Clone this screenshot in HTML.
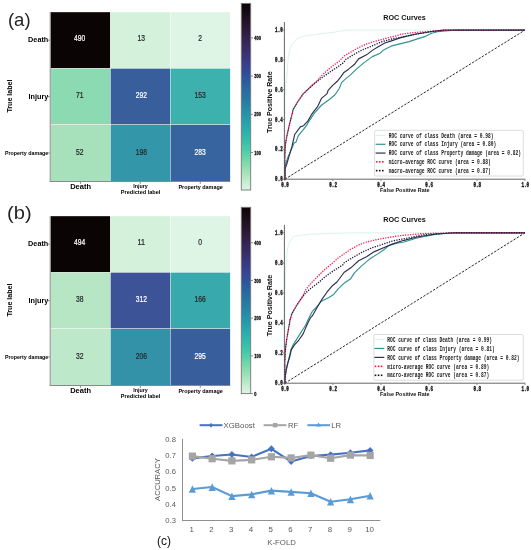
<!DOCTYPE html>
<html><head><meta charset="utf-8"><style>
html,body{margin:0;padding:0;background:#fff;width:531px;height:550px;overflow:hidden}
svg{display:block}
</style></head><body>
<svg width="531" height="550" viewBox="0 0 531 550" font-family="Liberation Sans, sans-serif">
<rect width="531" height="550" fill="#fff"/>
<rect x="50.50" y="12.00" width="59.90" height="56.40" fill="#0b0405" stroke="#fff" stroke-width="0.35"/>
<rect x="110.40" y="12.00" width="59.90" height="56.40" fill="#d4f1dc" stroke="#fff" stroke-width="0.35"/>
<rect x="170.30" y="12.00" width="59.90" height="56.40" fill="#def5e5" stroke="#fff" stroke-width="0.35"/>
<rect x="50.50" y="68.40" width="59.90" height="56.40" fill="#8bdab2" stroke="#fff" stroke-width="0.35"/>
<rect x="110.40" y="68.40" width="59.90" height="56.40" fill="#395e9c" stroke="#fff" stroke-width="0.35"/>
<rect x="170.30" y="68.40" width="59.90" height="56.40" fill="#3cb1ad" stroke="#fff" stroke-width="0.35"/>
<rect x="50.50" y="124.80" width="59.90" height="56.40" fill="#a6e1bc" stroke="#fff" stroke-width="0.35"/>
<rect x="110.40" y="124.80" width="59.90" height="56.40" fill="#3497a9" stroke="#fff" stroke-width="0.35"/>
<rect x="170.30" y="124.80" width="59.90" height="56.40" fill="#37649e" stroke="#fff" stroke-width="0.35"/>
<line x1="50.20" y1="12.00" x2="50.20" y2="181.80" stroke="#8a8a8a" stroke-width="1.0" />
<line x1="49.70" y1="181.50" x2="230.20" y2="181.50" stroke="#8a8a8a" stroke-width="1.0" />
<line x1="47.90" y1="40.20" x2="49.70" y2="40.20" stroke="#555" stroke-width="0.7" />
<line x1="80.45" y1="182.00" x2="80.45" y2="183.80" stroke="#555" stroke-width="0.7" />
<line x1="47.90" y1="96.60" x2="49.70" y2="96.60" stroke="#555" stroke-width="0.7" />
<line x1="140.35" y1="182.00" x2="140.35" y2="183.80" stroke="#555" stroke-width="0.7" />
<line x1="47.90" y1="153.00" x2="49.70" y2="153.00" stroke="#555" stroke-width="0.7" />
<line x1="200.25" y1="182.00" x2="200.25" y2="183.80" stroke="#555" stroke-width="0.7" />
<defs><linearGradient id="g0" x1="0" y1="0" x2="0" y2="1"><stop offset="0.000" stop-color="#0b0304"/><stop offset="0.042" stop-color="#160a13"/><stop offset="0.083" stop-color="#211223"/><stop offset="0.125" stop-color="#291833"/><stop offset="0.167" stop-color="#311f45"/><stop offset="0.208" stop-color="#362758"/><stop offset="0.250" stop-color="#392e69"/><stop offset="0.292" stop-color="#3a367d"/><stop offset="0.333" stop-color="#37418e"/><stop offset="0.375" stop-color="#314d98"/><stop offset="0.417" stop-color="#2c5b9d"/><stop offset="0.458" stop-color="#2969a0"/><stop offset="0.500" stop-color="#2875a2"/><stop offset="0.542" stop-color="#2682a5"/><stop offset="0.583" stop-color="#268fa8"/><stop offset="0.625" stop-color="#279daa"/><stop offset="0.667" stop-color="#2aaaac"/><stop offset="0.708" stop-color="#31b6ac"/><stop offset="0.750" stop-color="#3bc1ab"/><stop offset="0.792" stop-color="#4dcda9"/><stop offset="0.833" stop-color="#6ed6a9"/><stop offset="0.875" stop-color="#8dddb0"/><stop offset="0.917" stop-color="#ace4be"/><stop offset="0.958" stop-color="#c6edd1"/><stop offset="1.000" stop-color="#dbf5e3"/></linearGradient></defs>
<rect x="241.3" y="3.4" width="9.399999999999977" height="186.6" fill="url(#g0)" stroke="#777" stroke-width="0.9"/>
<line x1="251.10" y1="152.53" x2="252.90" y2="152.53" stroke="#333" stroke-width="0.6" />
<line x1="251.10" y1="114.29" x2="252.90" y2="114.29" stroke="#333" stroke-width="0.6" />
<line x1="251.10" y1="76.05" x2="252.90" y2="76.05" stroke="#333" stroke-width="0.6" />
<line x1="251.10" y1="37.81" x2="252.90" y2="37.81" stroke="#333" stroke-width="0.6" />
<rect x="50.50" y="216.00" width="59.90" height="56.40" fill="#0b0405" stroke="#fff" stroke-width="0.35"/>
<rect x="110.40" y="216.00" width="59.90" height="56.40" fill="#d4f1dc" stroke="#fff" stroke-width="0.35"/>
<rect x="170.30" y="216.00" width="59.90" height="56.40" fill="#def5e5" stroke="#fff" stroke-width="0.35"/>
<rect x="50.50" y="272.40" width="59.90" height="56.40" fill="#b7e6c5" stroke="#fff" stroke-width="0.35"/>
<rect x="110.40" y="272.40" width="59.90" height="56.40" fill="#3c5397" stroke="#fff" stroke-width="0.35"/>
<rect x="170.30" y="272.40" width="59.90" height="56.40" fill="#38a9ac" stroke="#fff" stroke-width="0.35"/>
<rect x="50.50" y="328.80" width="59.90" height="56.40" fill="#bee8ca" stroke="#fff" stroke-width="0.35"/>
<rect x="110.40" y="328.80" width="59.90" height="56.40" fill="#3492a8" stroke="#fff" stroke-width="0.35"/>
<rect x="170.30" y="328.80" width="59.90" height="56.40" fill="#395e9c" stroke="#fff" stroke-width="0.35"/>
<line x1="50.20" y1="216.00" x2="50.20" y2="385.80" stroke="#8a8a8a" stroke-width="1.0" />
<line x1="49.70" y1="385.50" x2="230.20" y2="385.50" stroke="#8a8a8a" stroke-width="1.0" />
<line x1="47.90" y1="244.20" x2="49.70" y2="244.20" stroke="#555" stroke-width="0.7" />
<line x1="80.45" y1="386.00" x2="80.45" y2="387.80" stroke="#555" stroke-width="0.7" />
<line x1="47.90" y1="300.60" x2="49.70" y2="300.60" stroke="#555" stroke-width="0.7" />
<line x1="140.35" y1="386.00" x2="140.35" y2="387.80" stroke="#555" stroke-width="0.7" />
<line x1="47.90" y1="357.00" x2="49.70" y2="357.00" stroke="#555" stroke-width="0.7" />
<line x1="200.25" y1="386.00" x2="200.25" y2="387.80" stroke="#555" stroke-width="0.7" />
<defs><linearGradient id="g204" x1="0" y1="0" x2="0" y2="1"><stop offset="0.000" stop-color="#0b0304"/><stop offset="0.042" stop-color="#160a13"/><stop offset="0.083" stop-color="#211223"/><stop offset="0.125" stop-color="#291833"/><stop offset="0.167" stop-color="#311f45"/><stop offset="0.208" stop-color="#362758"/><stop offset="0.250" stop-color="#392e69"/><stop offset="0.292" stop-color="#3a367d"/><stop offset="0.333" stop-color="#37418e"/><stop offset="0.375" stop-color="#314d98"/><stop offset="0.417" stop-color="#2c5b9d"/><stop offset="0.458" stop-color="#2969a0"/><stop offset="0.500" stop-color="#2875a2"/><stop offset="0.542" stop-color="#2682a5"/><stop offset="0.583" stop-color="#268fa8"/><stop offset="0.625" stop-color="#279daa"/><stop offset="0.667" stop-color="#2aaaac"/><stop offset="0.708" stop-color="#31b6ac"/><stop offset="0.750" stop-color="#3bc1ab"/><stop offset="0.792" stop-color="#4dcda9"/><stop offset="0.833" stop-color="#6ed6a9"/><stop offset="0.875" stop-color="#8dddb0"/><stop offset="0.917" stop-color="#ace4be"/><stop offset="0.958" stop-color="#c6edd1"/><stop offset="1.000" stop-color="#dbf5e3"/></linearGradient></defs>
<rect x="241.3" y="207.3" width="9.399999999999977" height="186.3" fill="url(#g204)" stroke="#777" stroke-width="0.9"/>
<line x1="251.10" y1="393.60" x2="252.90" y2="393.60" stroke="#333" stroke-width="0.6" />
<line x1="251.10" y1="355.89" x2="252.90" y2="355.89" stroke="#333" stroke-width="0.6" />
<line x1="251.10" y1="318.17" x2="252.90" y2="318.17" stroke="#333" stroke-width="0.6" />
<line x1="251.10" y1="280.46" x2="252.90" y2="280.46" stroke="#333" stroke-width="0.6" />
<line x1="251.10" y1="242.75" x2="252.90" y2="242.75" stroke="#333" stroke-width="0.6" />
<line x1="284.90" y1="179.20" x2="525.00" y2="30.10" stroke="#111" stroke-width="0.9" stroke-dasharray="2.4 1.4"/>
<path d="M284.90,179.20 L284.90,97.19 L285.86,83.78 L287.06,74.68 L288.02,58.88 L289.70,49.93 L292.10,44.26 L296.66,39.05 L302.19,36.36 L311.31,35.17 L322.60,33.53 L333.88,32.34 L343.00,30.55 L347.33,30.10 L525.00,30.10" fill="none" stroke="#dcf4ea" stroke-width="1.0" stroke-linejoin="round"/>
<path d="M284.90,179.20 L284.90,165.93 L287.78,157.58 L291.38,149.38 L294.26,142.82 L295.94,142.22 L298.35,135.66 L303.15,129.85 L306.75,125.08 L310.11,119.56 L314.43,113.15 L321.40,105.25 L329.32,99.43 L334.84,94.96 L339.40,88.25 L341.56,82.58 L343.96,80.35 L350.69,74.68 L356.45,69.16 L363.17,63.35 L372.30,56.64 L380.22,53.21 L383.58,49.93 L391.50,45.90 L399.91,43.82 L409.03,41.58 L418.16,38.60 L425.60,36.36 L431.60,33.23 L437.60,31.74 L448.17,30.70 L457.77,30.10 L525.00,30.10" fill="none" stroke="#2f9490" stroke-width="1.15" stroke-linejoin="round"/>
<path d="M284.90,179.20 L284.90,169.36 L286.58,164.74 L288.98,156.39 L291.86,146.99 L294.74,134.47 L300.27,126.87 L303.63,125.67 L307.95,120.90 L311.31,114.94 L313.47,111.96 L317.79,106.29 L321.40,98.39 L326.92,93.91 L328.12,90.49 L332.68,85.42 L337.00,81.54 L340.60,77.07 L343.96,72.44 L348.53,69.16 L354.29,64.54 L358.61,58.88 L366.53,54.85 L372.30,50.38 L377.82,46.95 L384.78,43.07 L391.50,40.84 L399.91,37.85 L415.03,34.27 L430.16,31.74 L443.37,30.10 L525.00,30.10" fill="none" stroke="#2e2f52" stroke-width="1.15" stroke-linejoin="round"/>
<path d="M284.90,179.20 L284.90,154.15 L285.38,144.61 L287.06,135.07 L289.46,124.48 L291.86,114.94 L293.06,109.72 L297.63,101.82 L303.15,93.91 L310.11,87.06 L316.83,80.94 L323.56,73.64 L331.48,66.78 L339.40,61.11 L343.96,56.04 L350.69,52.17 L357.65,48.14 L364.37,44.86 L372.30,42.03 L381.18,39.64 L389.10,37.41 L397.03,35.77 L399.91,34.27 L415.03,32.49 L430.16,31.29 L445.29,30.40 L455.37,30.10 L525.00,30.10" fill="none" stroke="#fa1e5a" stroke-width="1.45" stroke-dasharray="0.01 2.5" stroke-dashoffset="0" stroke-linecap="round"/>
<path d="M284.90,179.20 L284.90,154.15 L285.38,144.61 L287.06,135.07 L289.46,124.48 L291.86,114.94 L293.06,109.72 L297.63,101.82 L303.15,93.91 L307.71,89.74 L313.47,84.37 L321.40,78.11 L329.32,72.44 L337.00,67.38 L343.96,62.31 L345.17,59.92 L353.09,54.85 L362.21,49.93 L372.30,45.90 L381.18,41.88 L391.50,39.05 L399.91,37.41 L415.03,34.27 L430.16,31.74 L443.37,30.10 L525.00,30.10" fill="none" stroke="#1c1c3c" stroke-width="1.45" stroke-dasharray="0.01 2.5" stroke-dashoffset="1.25" stroke-linecap="round"/>
<line x1="284.40" y1="22.10" x2="284.40" y2="179.70" stroke="#555" stroke-width="0.9" />
<line x1="284.00" y1="179.20" x2="525.30" y2="179.20" stroke="#555" stroke-width="0.9" />
<line x1="282.70" y1="179.20" x2="284.30" y2="179.20" stroke="#444" stroke-width="0.6" />
<line x1="284.90" y1="179.60" x2="284.90" y2="181.00" stroke="#444" stroke-width="0.6" />
<line x1="282.70" y1="149.38" x2="284.30" y2="149.38" stroke="#444" stroke-width="0.6" />
<line x1="332.92" y1="179.60" x2="332.92" y2="181.00" stroke="#444" stroke-width="0.6" />
<line x1="282.70" y1="119.56" x2="284.30" y2="119.56" stroke="#444" stroke-width="0.6" />
<line x1="380.94" y1="179.60" x2="380.94" y2="181.00" stroke="#444" stroke-width="0.6" />
<line x1="282.70" y1="89.74" x2="284.30" y2="89.74" stroke="#444" stroke-width="0.6" />
<line x1="428.96" y1="179.60" x2="428.96" y2="181.00" stroke="#444" stroke-width="0.6" />
<line x1="282.70" y1="59.92" x2="284.30" y2="59.92" stroke="#444" stroke-width="0.6" />
<line x1="476.98" y1="179.60" x2="476.98" y2="181.00" stroke="#444" stroke-width="0.6" />
<line x1="282.70" y1="30.10" x2="284.30" y2="30.10" stroke="#444" stroke-width="0.6" />
<line x1="525.00" y1="179.60" x2="525.00" y2="181.00" stroke="#444" stroke-width="0.6" />
<rect x="374.6" y="130.3" width="148.69999999999993" height="45.69999999999999" rx="1.2" fill="#fff" fill-opacity="0.85" stroke="#d4d4d4" stroke-width="0.8"/>
<line x1="375.60" y1="135.50" x2="385.50" y2="135.50" stroke="#dcf4ea" stroke-width="1.2" />
<line x1="375.60" y1="144.28" x2="385.50" y2="144.28" stroke="#2f9490" stroke-width="1.2" />
<line x1="375.60" y1="153.06" x2="385.50" y2="153.06" stroke="#2e2f52" stroke-width="1.2" />
<rect x="375.90" y="161.04" width="1.6" height="1.6" fill="#ff1040"/>
<rect x="378.95" y="161.04" width="1.6" height="1.6" fill="#ff1040"/>
<rect x="382.00" y="161.04" width="1.6" height="1.6" fill="#ff1040"/>
<rect x="375.90" y="169.82" width="1.6" height="1.6" fill="#111122"/>
<rect x="378.95" y="169.82" width="1.6" height="1.6" fill="#111122"/>
<rect x="382.00" y="169.82" width="1.6" height="1.6" fill="#111122"/>
<line x1="284.90" y1="383.20" x2="525.00" y2="232.80" stroke="#111" stroke-width="0.9" stroke-dasharray="2.4 1.4"/>
<path d="M284.90,383.20 L284.90,292.96 L285.62,270.40 L286.82,253.86 L287.78,247.69 L289.70,241.82 L293.54,236.41 L309.39,234.15 L347.81,232.95 L356.93,232.80 L525.00,232.80" fill="none" stroke="#dcf4ea" stroke-width="1.0" stroke-linejoin="round"/>
<path d="M284.90,383.20 L284.90,378.99 L286.10,370.42 L287.78,363.05 L289.22,357.03 L290.90,349.66 L293.54,344.10 L297.39,338.08 L301.71,331.31 L305.55,325.30 L308.91,317.93 L312.27,311.46 L315.63,308.00 L321.40,301.23 L329.32,297.17 L333.64,294.46 L338.20,288.90 L343.96,283.33 L350.69,278.67 L354.29,273.11 L361.01,266.34 L368.93,259.57 L377.82,253.86 L383.58,249.95 L389.10,245.43 L397.03,243.18 L403.99,241.97 L416.96,238.06 L436.16,234.30 L455.37,232.80 L525.00,232.80" fill="none" stroke="#2f9490" stroke-width="1.15" stroke-linejoin="round"/>
<path d="M284.90,383.20 L284.90,378.99 L286.10,370.42 L287.78,363.05 L289.70,357.03 L291.38,349.66 L294.50,344.85 L298.83,340.04 L303.15,333.87 L306.75,325.30 L310.35,317.93 L312.27,315.97 L316.83,308.00 L321.40,300.18 L326.92,292.21 L332.68,285.44 L337.00,281.98 L343.96,272.51 L351.89,266.94 L358.61,260.77 L366.53,256.71 L374.46,251.60 L383.58,247.69 L391.50,244.38 L398.23,241.97 L403.99,240.32 L416.96,237.01 L436.16,234.00 L455.37,232.80 L525.00,232.80" fill="none" stroke="#2e2f52" stroke-width="1.15" stroke-linejoin="round"/>
<path d="M284.90,383.20 L284.90,372.82 L284.90,360.64 L285.38,349.66 L286.82,338.68 L288.50,328.91 L290.18,319.13 L291.86,313.72 L296.42,305.74 L300.99,298.98 L305.55,289.95 L311.07,283.18 L317.79,276.27 L324.76,269.50 L331.48,263.93 L337.72,258.37 L343.96,253.86 L350.69,249.34 L358.61,244.98 L366.53,241.97 L375.66,239.87 L384.78,238.06 L394.87,236.41 L403.99,235.21 L424.16,233.55 L452.97,232.80 L525.00,232.80" fill="none" stroke="#fa1e5a" stroke-width="1.45" stroke-dasharray="0.01 2.5" stroke-dashoffset="0" stroke-linecap="round"/>
<path d="M284.90,383.20 L284.90,372.82 L284.90,360.64 L285.38,349.66 L286.82,338.68 L288.50,328.91 L290.18,319.13 L291.86,313.72 L296.42,305.74 L300.99,298.98 L305.55,292.96 L310.11,288.90 L317.79,283.18 L325.72,276.27 L333.64,270.70 L342.76,264.99 L343.96,262.88 L353.09,257.32 L362.21,252.20 L372.30,247.69 L382.38,244.38 L392.70,240.92 L403.99,238.67 L424.16,234.60 L452.97,232.80 L525.00,232.80" fill="none" stroke="#1c1c3c" stroke-width="1.45" stroke-dasharray="0.01 2.5" stroke-dashoffset="1.25" stroke-linecap="round"/>
<line x1="284.40" y1="224.80" x2="284.40" y2="383.70" stroke="#555" stroke-width="0.9" />
<line x1="284.00" y1="383.20" x2="525.30" y2="383.20" stroke="#555" stroke-width="0.9" />
<line x1="282.70" y1="383.20" x2="284.30" y2="383.20" stroke="#444" stroke-width="0.6" />
<line x1="284.90" y1="383.60" x2="284.90" y2="385.00" stroke="#444" stroke-width="0.6" />
<line x1="282.70" y1="353.12" x2="284.30" y2="353.12" stroke="#444" stroke-width="0.6" />
<line x1="332.92" y1="383.60" x2="332.92" y2="385.00" stroke="#444" stroke-width="0.6" />
<line x1="282.70" y1="323.04" x2="284.30" y2="323.04" stroke="#444" stroke-width="0.6" />
<line x1="380.94" y1="383.60" x2="380.94" y2="385.00" stroke="#444" stroke-width="0.6" />
<line x1="282.70" y1="292.96" x2="284.30" y2="292.96" stroke="#444" stroke-width="0.6" />
<line x1="428.96" y1="383.60" x2="428.96" y2="385.00" stroke="#444" stroke-width="0.6" />
<line x1="282.70" y1="262.88" x2="284.30" y2="262.88" stroke="#444" stroke-width="0.6" />
<line x1="476.98" y1="383.60" x2="476.98" y2="385.00" stroke="#444" stroke-width="0.6" />
<line x1="282.70" y1="232.80" x2="284.30" y2="232.80" stroke="#444" stroke-width="0.6" />
<line x1="525.00" y1="383.60" x2="525.00" y2="385.00" stroke="#444" stroke-width="0.6" />
<rect x="373.88" y="334.5" width="149.41999999999996" height="45.69999999999999" rx="1.2" fill="#fff" fill-opacity="0.85" stroke="#d4d4d4" stroke-width="0.8"/>
<line x1="374.40" y1="339.50" x2="384.30" y2="339.50" stroke="#dcf4ea" stroke-width="1.2" />
<line x1="374.40" y1="348.45" x2="384.30" y2="348.45" stroke="#2f9490" stroke-width="1.2" />
<line x1="374.40" y1="357.40" x2="384.30" y2="357.40" stroke="#2e2f52" stroke-width="1.2" />
<rect x="374.70" y="365.55" width="1.6" height="1.6" fill="#ff1040"/>
<rect x="377.75" y="365.55" width="1.6" height="1.6" fill="#ff1040"/>
<rect x="380.80" y="365.55" width="1.6" height="1.6" fill="#ff1040"/>
<rect x="374.70" y="374.50" width="1.6" height="1.6" fill="#111122"/>
<rect x="377.75" y="374.50" width="1.6" height="1.6" fill="#111122"/>
<rect x="380.80" y="374.50" width="1.6" height="1.6" fill="#111122"/>
<line x1="182.50" y1="438.80" x2="182.50" y2="520.50" stroke="#8f8f8f" stroke-width="1.0" />
<line x1="182.00" y1="520.50" x2="380.30" y2="520.50" stroke="#8f8f8f" stroke-width="1.0" />
<path d="M192.40,458.41 L212.15,455.96 L231.90,454.49 L251.65,456.94 L271.40,448.77 L291.15,461.51 L310.90,455.96 L330.65,454.65 L350.40,452.69 L370.15,450.40" fill="none" stroke="#4472c4" stroke-width="2.1" stroke-linejoin="round"/>
<path d="M192.40,455.01 L195.80,458.41 L192.40,461.81 L189.00,458.41Z" fill="#4472c4"/>
<path d="M212.15,452.56 L215.55,455.96 L212.15,459.36 L208.75,455.96Z" fill="#4472c4"/>
<path d="M231.90,451.09 L235.30,454.49 L231.90,457.89 L228.50,454.49Z" fill="#4472c4"/>
<path d="M251.65,453.54 L255.05,456.94 L251.65,460.34 L248.25,456.94Z" fill="#4472c4"/>
<path d="M271.40,445.37 L274.80,448.77 L271.40,452.17 L268.00,448.77Z" fill="#4472c4"/>
<path d="M291.15,458.11 L294.55,461.51 L291.15,464.91 L287.75,461.51Z" fill="#4472c4"/>
<path d="M310.90,452.56 L314.30,455.96 L310.90,459.36 L307.50,455.96Z" fill="#4472c4"/>
<path d="M330.65,451.25 L334.05,454.65 L330.65,458.05 L327.25,454.65Z" fill="#4472c4"/>
<path d="M350.40,449.29 L353.80,452.69 L350.40,456.09 L347.00,452.69Z" fill="#4472c4"/>
<path d="M370.15,447.00 L373.55,450.40 L370.15,453.80 L366.75,450.40Z" fill="#4472c4"/>
<path d="M192.40,456.12 L212.15,458.73 L231.90,460.86 L251.65,459.88 L271.40,456.77 L291.15,457.92 L310.90,455.14 L330.65,458.24 L350.40,455.14 L370.15,455.47" fill="none" stroke="#a5a5a5" stroke-width="2.1" stroke-linejoin="round"/>
<rect x="188.80" y="452.52" width="7.20" height="7.20" fill="#a5a5a5" />
<rect x="208.55" y="455.13" width="7.20" height="7.20" fill="#a5a5a5" />
<rect x="228.30" y="457.26" width="7.20" height="7.20" fill="#a5a5a5" />
<rect x="248.05" y="456.28" width="7.20" height="7.20" fill="#a5a5a5" />
<rect x="267.80" y="453.17" width="7.20" height="7.20" fill="#a5a5a5" />
<rect x="287.55" y="454.32" width="7.20" height="7.20" fill="#a5a5a5" />
<rect x="307.30" y="451.54" width="7.20" height="7.20" fill="#a5a5a5" />
<rect x="327.05" y="454.64" width="7.20" height="7.20" fill="#a5a5a5" />
<rect x="346.80" y="451.54" width="7.20" height="7.20" fill="#a5a5a5" />
<rect x="366.55" y="451.87" width="7.20" height="7.20" fill="#a5a5a5" />
<path d="M192.40,488.96 L212.15,487.00 L231.90,496.15 L251.65,494.36 L271.40,490.60 L291.15,491.90 L310.90,493.21 L330.65,501.71 L350.40,499.26 L370.15,495.66" fill="none" stroke="#5b9bd5" stroke-width="2.1" stroke-linejoin="round"/>
<path d="M192.40,485.26 L196.00,492.86 L188.80,492.86Z" fill="#5b9bd5"/>
<path d="M212.15,483.30 L215.75,490.90 L208.55,490.90Z" fill="#5b9bd5"/>
<path d="M231.90,492.45 L235.50,500.05 L228.30,500.05Z" fill="#5b9bd5"/>
<path d="M251.65,490.66 L255.25,498.26 L248.05,498.26Z" fill="#5b9bd5"/>
<path d="M271.40,486.90 L275.00,494.50 L267.80,494.50Z" fill="#5b9bd5"/>
<path d="M291.15,488.20 L294.75,495.80 L287.55,495.80Z" fill="#5b9bd5"/>
<path d="M310.90,489.51 L314.50,497.11 L307.30,497.11Z" fill="#5b9bd5"/>
<path d="M330.65,498.01 L334.25,505.61 L327.05,505.61Z" fill="#5b9bd5"/>
<path d="M350.40,495.56 L354.00,503.16 L346.80,503.16Z" fill="#5b9bd5"/>
<path d="M370.15,491.96 L373.75,499.56 L366.55,499.56Z" fill="#5b9bd5"/>
<line x1="199.60" y1="425.20" x2="222.40" y2="425.20" stroke="#4472c4" stroke-width="2.0" />
<path d="M211.0,422.7 L212.8,425.2 L211.0,427.7 L209.2,425.2Z" fill="#4472c4"/>
<line x1="263.60" y1="425.20" x2="286.40" y2="425.20" stroke="#a5a5a5" stroke-width="2.0" />
<rect x="272.90" y="423.00" width="4.40" height="4.40" fill="#a5a5a5" />
<line x1="307.40" y1="425.20" x2="330.00" y2="425.20" stroke="#5b9bd5" stroke-width="2.0" />
<path d="M318.5,422.6 L321.0,426.6 L316.0,426.6Z" fill="#5b9bd5"/>
<defs><filter id="gs" x="0" y="0" width="531" height="550" filterUnits="userSpaceOnUse" color-interpolation-filters="sRGB"><feColorMatrix type="saturate" values="0"/></filter></defs>
<g filter="url(#gs)"><text x="79.65" y="41.19" font-family="Liberation Sans" font-size="8.7" font-weight="normal" text-anchor="middle" fill="#fff" textLength="11.25" lengthAdjust="spacingAndGlyphs" stroke="#fff" stroke-width="0.22">490</text>
<text x="141.35" y="41.19" font-family="Liberation Sans" font-size="8.7" font-weight="normal" text-anchor="middle" fill="#262626" textLength="7.5" lengthAdjust="spacingAndGlyphs" stroke="#262626" stroke-width="0.22">13</text>
<text x="200.15" y="41.19" font-family="Liberation Sans" font-size="8.7" font-weight="normal" text-anchor="middle" fill="#262626" textLength="3.75" lengthAdjust="spacingAndGlyphs" stroke="#262626" stroke-width="0.22">2</text>
<text x="79.65" y="98.09" font-family="Liberation Sans" font-size="8.7" font-weight="normal" text-anchor="middle" fill="#262626" textLength="7.5" lengthAdjust="spacingAndGlyphs" stroke="#262626" stroke-width="0.22">71</text>
<text x="141.35" y="98.09" font-family="Liberation Sans" font-size="8.7" font-weight="normal" text-anchor="middle" fill="#fff" textLength="11.25" lengthAdjust="spacingAndGlyphs" stroke="#fff" stroke-width="0.22">292</text>
<text x="200.15" y="98.09" font-family="Liberation Sans" font-size="8.7" font-weight="normal" text-anchor="middle" fill="#262626" textLength="11.25" lengthAdjust="spacingAndGlyphs" stroke="#262626" stroke-width="0.22">153</text>
<text x="79.65" y="154.69" font-family="Liberation Sans" font-size="8.7" font-weight="normal" text-anchor="middle" fill="#262626" textLength="7.5" lengthAdjust="spacingAndGlyphs" stroke="#262626" stroke-width="0.22">52</text>
<text x="141.35" y="154.69" font-family="Liberation Sans" font-size="8.7" font-weight="normal" text-anchor="middle" fill="#262626" textLength="11.25" lengthAdjust="spacingAndGlyphs" stroke="#262626" stroke-width="0.22">198</text>
<text x="200.15" y="154.69" font-family="Liberation Sans" font-size="8.7" font-weight="normal" text-anchor="middle" fill="#fff" textLength="11.25" lengthAdjust="spacingAndGlyphs" stroke="#fff" stroke-width="0.22">283</text>
<text x="48.30" y="42.11" font-family="Liberation Sans" font-size="7.3" font-weight="bold" text-anchor="end" fill="#000" textLength="20.2" lengthAdjust="spacingAndGlyphs" >Death</text>
<text x="48.30" y="98.81" font-family="Liberation Sans" font-size="7.3" font-weight="bold" text-anchor="end" fill="#000" textLength="19.8" lengthAdjust="spacingAndGlyphs" >Injury</text>
<text x="48.30" y="155.46" font-family="Liberation Sans" font-size="5.4" font-weight="bold" text-anchor="end" fill="#000" textLength="43.4" lengthAdjust="spacingAndGlyphs" >Property damage</text>
<text x="0" y="2.44" font-family="Liberation Sans" font-size="7.1" font-weight="bold" text-anchor="middle" fill="#000" textLength="33" lengthAdjust="spacingAndGlyphs" transform="translate(9.90,96.10) rotate(-90)" >True label</text>
<text x="80.60" y="188.73" font-family="Liberation Sans" font-size="7.5" font-weight="bold" text-anchor="middle" fill="#000" textLength="20.8" lengthAdjust="spacingAndGlyphs" >Death</text>
<text x="140.50" y="188.06" font-family="Liberation Sans" font-size="5.4" font-weight="bold" text-anchor="middle" fill="#000" textLength="14.6" lengthAdjust="spacingAndGlyphs" >Injury</text>
<text x="140.60" y="193.79" font-family="Liberation Sans" font-size="5.5" font-weight="bold" text-anchor="middle" fill="#000" textLength="39.6" lengthAdjust="spacingAndGlyphs" >Predicted label</text>
<text x="200.60" y="188.69" font-family="Liberation Sans" font-size="5.5" font-weight="bold" text-anchor="middle" fill="#000" textLength="44.4" lengthAdjust="spacingAndGlyphs" >Property damage</text>
<text x="7.95" y="25.67" font-family="Liberation Sans" font-size="19" font-weight="normal" text-anchor="start" fill="#262626" textLength="22.66" lengthAdjust="spacingAndGlyphs" >(a)</text>
<text x="254.30" y="154.61" font-family="Liberation Sans" font-size="4.6" font-weight="bold" text-anchor="start" fill="#111" textLength="6.6000000000000005" lengthAdjust="spacingAndGlyphs" stroke="#111" stroke-width="0.3">100</text>
<text x="254.30" y="116.37" font-family="Liberation Sans" font-size="4.6" font-weight="bold" text-anchor="start" fill="#111" textLength="6.6000000000000005" lengthAdjust="spacingAndGlyphs" stroke="#111" stroke-width="0.3">200</text>
<text x="254.30" y="78.13" font-family="Liberation Sans" font-size="4.6" font-weight="bold" text-anchor="start" fill="#111" textLength="6.6000000000000005" lengthAdjust="spacingAndGlyphs" stroke="#111" stroke-width="0.3">300</text>
<text x="254.30" y="39.90" font-family="Liberation Sans" font-size="4.6" font-weight="bold" text-anchor="start" fill="#111" textLength="6.6000000000000005" lengthAdjust="spacingAndGlyphs" stroke="#111" stroke-width="0.3">400</text>
<text x="79.65" y="245.19" font-family="Liberation Sans" font-size="8.7" font-weight="normal" text-anchor="middle" fill="#fff" textLength="11.25" lengthAdjust="spacingAndGlyphs" stroke="#fff" stroke-width="0.22">494</text>
<text x="141.35" y="245.19" font-family="Liberation Sans" font-size="8.7" font-weight="normal" text-anchor="middle" fill="#262626" textLength="7.5" lengthAdjust="spacingAndGlyphs" stroke="#262626" stroke-width="0.22">11</text>
<text x="200.15" y="245.19" font-family="Liberation Sans" font-size="8.7" font-weight="normal" text-anchor="middle" fill="#262626" textLength="3.75" lengthAdjust="spacingAndGlyphs" stroke="#262626" stroke-width="0.22">0</text>
<text x="79.65" y="302.09" font-family="Liberation Sans" font-size="8.7" font-weight="normal" text-anchor="middle" fill="#262626" textLength="7.5" lengthAdjust="spacingAndGlyphs" stroke="#262626" stroke-width="0.22">38</text>
<text x="141.35" y="302.09" font-family="Liberation Sans" font-size="8.7" font-weight="normal" text-anchor="middle" fill="#fff" textLength="11.25" lengthAdjust="spacingAndGlyphs" stroke="#fff" stroke-width="0.22">312</text>
<text x="200.15" y="302.09" font-family="Liberation Sans" font-size="8.7" font-weight="normal" text-anchor="middle" fill="#262626" textLength="11.25" lengthAdjust="spacingAndGlyphs" stroke="#262626" stroke-width="0.22">166</text>
<text x="79.65" y="358.69" font-family="Liberation Sans" font-size="8.7" font-weight="normal" text-anchor="middle" fill="#262626" textLength="7.5" lengthAdjust="spacingAndGlyphs" stroke="#262626" stroke-width="0.22">32</text>
<text x="141.35" y="358.69" font-family="Liberation Sans" font-size="8.7" font-weight="normal" text-anchor="middle" fill="#262626" textLength="11.25" lengthAdjust="spacingAndGlyphs" stroke="#262626" stroke-width="0.22">206</text>
<text x="200.15" y="358.69" font-family="Liberation Sans" font-size="8.7" font-weight="normal" text-anchor="middle" fill="#fff" textLength="11.25" lengthAdjust="spacingAndGlyphs" stroke="#fff" stroke-width="0.22">295</text>
<text x="48.30" y="246.11" font-family="Liberation Sans" font-size="7.3" font-weight="bold" text-anchor="end" fill="#000" textLength="20.2" lengthAdjust="spacingAndGlyphs" >Death</text>
<text x="48.30" y="302.81" font-family="Liberation Sans" font-size="7.3" font-weight="bold" text-anchor="end" fill="#000" textLength="19.8" lengthAdjust="spacingAndGlyphs" >Injury</text>
<text x="48.30" y="358.56" font-family="Liberation Sans" font-size="5.4" font-weight="bold" text-anchor="end" fill="#000" textLength="43.4" lengthAdjust="spacingAndGlyphs" >Property damage</text>
<text x="0" y="2.44" font-family="Liberation Sans" font-size="7.1" font-weight="bold" text-anchor="middle" fill="#000" textLength="33" lengthAdjust="spacingAndGlyphs" transform="translate(9.90,300.10) rotate(-90)" >True label</text>
<text x="80.60" y="392.73" font-family="Liberation Sans" font-size="7.5" font-weight="bold" text-anchor="middle" fill="#000" textLength="20.8" lengthAdjust="spacingAndGlyphs" >Death</text>
<text x="140.50" y="392.06" font-family="Liberation Sans" font-size="5.4" font-weight="bold" text-anchor="middle" fill="#000" textLength="14.6" lengthAdjust="spacingAndGlyphs" >Injury</text>
<text x="140.60" y="397.79" font-family="Liberation Sans" font-size="5.5" font-weight="bold" text-anchor="middle" fill="#000" textLength="39.6" lengthAdjust="spacingAndGlyphs" >Predicted label</text>
<text x="200.60" y="392.69" font-family="Liberation Sans" font-size="5.5" font-weight="bold" text-anchor="middle" fill="#000" textLength="44.4" lengthAdjust="spacingAndGlyphs" >Property damage</text>
<text x="7.05" y="218.94" font-family="Liberation Sans" font-size="19" font-weight="normal" text-anchor="start" fill="#262626" textLength="24.6" lengthAdjust="spacingAndGlyphs" >(b)</text>
<text x="254.30" y="395.68" font-family="Liberation Sans" font-size="4.6" font-weight="bold" text-anchor="start" fill="#111" textLength="2.2" lengthAdjust="spacingAndGlyphs" stroke="#111" stroke-width="0.3">0</text>
<text x="254.30" y="357.97" font-family="Liberation Sans" font-size="4.6" font-weight="bold" text-anchor="start" fill="#111" textLength="6.6000000000000005" lengthAdjust="spacingAndGlyphs" stroke="#111" stroke-width="0.3">100</text>
<text x="254.30" y="320.26" font-family="Liberation Sans" font-size="4.6" font-weight="bold" text-anchor="start" fill="#111" textLength="6.6000000000000005" lengthAdjust="spacingAndGlyphs" stroke="#111" stroke-width="0.3">200</text>
<text x="254.30" y="282.54" font-family="Liberation Sans" font-size="4.6" font-weight="bold" text-anchor="start" fill="#111" textLength="6.6000000000000005" lengthAdjust="spacingAndGlyphs" stroke="#111" stroke-width="0.3">300</text>
<text x="254.30" y="244.83" font-family="Liberation Sans" font-size="4.6" font-weight="bold" text-anchor="start" fill="#111" textLength="6.6000000000000005" lengthAdjust="spacingAndGlyphs" stroke="#111" stroke-width="0.3">400</text>
<text x="404.50" y="19.76" font-family="Liberation Sans" font-size="7.3" font-weight="bold" text-anchor="middle" fill="#111" textLength="42.5" lengthAdjust="spacingAndGlyphs" >ROC Curves</text>
<text x="0" y="2.44" font-family="Liberation Sans" font-size="7.1" font-weight="bold" text-anchor="middle" fill="#111" textLength="61.5" lengthAdjust="spacingAndGlyphs" transform="translate(269.60,102.15) rotate(-90)" >True Positive Rate</text>
<text x="404.80" y="192.43" font-family="Liberation Sans" font-size="5.6" font-weight="bold" text-anchor="middle" fill="#111" textLength="49.5" lengthAdjust="spacingAndGlyphs" >False Positive Rate</text>
<text x="282.70" y="181.31" font-family="Liberation Mono" font-size="6.4" font-weight="bold" text-anchor="end" fill="#111" textLength="7.6" lengthAdjust="spacingAndGlyphs" stroke="#111" stroke-width="0.35">0.0</text>
<text x="285.10" y="186.91" font-family="Liberation Mono" font-size="6.4" font-weight="bold" text-anchor="middle" fill="#111" textLength="7.6" lengthAdjust="spacingAndGlyphs" stroke="#111" stroke-width="0.35">0.0</text>
<text x="282.70" y="151.49" font-family="Liberation Mono" font-size="6.4" font-weight="bold" text-anchor="end" fill="#111" textLength="7.6" lengthAdjust="spacingAndGlyphs" stroke="#111" stroke-width="0.35">0.2</text>
<text x="333.12" y="186.91" font-family="Liberation Mono" font-size="6.4" font-weight="bold" text-anchor="middle" fill="#111" textLength="7.6" lengthAdjust="spacingAndGlyphs" stroke="#111" stroke-width="0.35">0.2</text>
<text x="282.70" y="121.67" font-family="Liberation Mono" font-size="6.4" font-weight="bold" text-anchor="end" fill="#111" textLength="7.6" lengthAdjust="spacingAndGlyphs" stroke="#111" stroke-width="0.35">0.4</text>
<text x="381.14" y="186.91" font-family="Liberation Mono" font-size="6.4" font-weight="bold" text-anchor="middle" fill="#111" textLength="7.6" lengthAdjust="spacingAndGlyphs" stroke="#111" stroke-width="0.35">0.4</text>
<text x="282.70" y="91.85" font-family="Liberation Mono" font-size="6.4" font-weight="bold" text-anchor="end" fill="#111" textLength="7.6" lengthAdjust="spacingAndGlyphs" stroke="#111" stroke-width="0.35">0.6</text>
<text x="429.16" y="186.91" font-family="Liberation Mono" font-size="6.4" font-weight="bold" text-anchor="middle" fill="#111" textLength="7.6" lengthAdjust="spacingAndGlyphs" stroke="#111" stroke-width="0.35">0.6</text>
<text x="282.70" y="62.03" font-family="Liberation Mono" font-size="6.4" font-weight="bold" text-anchor="end" fill="#111" textLength="7.6" lengthAdjust="spacingAndGlyphs" stroke="#111" stroke-width="0.35">0.8</text>
<text x="477.18" y="186.91" font-family="Liberation Mono" font-size="6.4" font-weight="bold" text-anchor="middle" fill="#111" textLength="7.6" lengthAdjust="spacingAndGlyphs" stroke="#111" stroke-width="0.35">0.8</text>
<text x="282.70" y="32.21" font-family="Liberation Mono" font-size="6.4" font-weight="bold" text-anchor="end" fill="#111" textLength="7.6" lengthAdjust="spacingAndGlyphs" stroke="#111" stroke-width="0.35">1.0</text>
<text x="525.20" y="186.91" font-family="Liberation Mono" font-size="6.4" font-weight="bold" text-anchor="middle" fill="#111" textLength="7.6" lengthAdjust="spacingAndGlyphs" stroke="#111" stroke-width="0.35">1.0</text>
<text x="388.80" y="137.67" font-family="Liberation Mono" font-size="6.6" font-weight="bold" text-anchor="start" fill="#1a1a1a" textLength="104.69" lengthAdjust="spacingAndGlyphs" >ROC curve of class Death (area = 0.98)</text>
<text x="388.80" y="146.45" font-family="Liberation Mono" font-size="6.6" font-weight="bold" text-anchor="start" fill="#1a1a1a" textLength="107.44" lengthAdjust="spacingAndGlyphs" >ROC curve of class Injury (area = 0.80)</text>
<text x="388.80" y="155.23" font-family="Liberation Mono" font-size="6.6" font-weight="bold" text-anchor="start" fill="#1a1a1a" textLength="132.24" lengthAdjust="spacingAndGlyphs" >ROC curve of class Property damage (area = 0.82)</text>
<text x="388.80" y="164.01" font-family="Liberation Mono" font-size="6.6" font-weight="bold" text-anchor="start" fill="#1a1a1a" textLength="101.94" lengthAdjust="spacingAndGlyphs" >micro-average ROC curve (area = 0.88)</text>
<text x="388.80" y="172.79" font-family="Liberation Mono" font-size="6.6" font-weight="bold" text-anchor="start" fill="#1a1a1a" textLength="101.94" lengthAdjust="spacingAndGlyphs" >macro-average ROC curve (area = 0.87)</text>
<text x="404.50" y="222.46" font-family="Liberation Sans" font-size="7.3" font-weight="bold" text-anchor="middle" fill="#111" textLength="42.5" lengthAdjust="spacingAndGlyphs" >ROC Curves</text>
<text x="0" y="2.44" font-family="Liberation Sans" font-size="7.1" font-weight="bold" text-anchor="middle" fill="#111" textLength="61.5" lengthAdjust="spacingAndGlyphs" transform="translate(269.60,305.50) rotate(-90)" >True Positive Rate</text>
<text x="404.80" y="396.43" font-family="Liberation Sans" font-size="5.6" font-weight="bold" text-anchor="middle" fill="#111" textLength="49.5" lengthAdjust="spacingAndGlyphs" >False Positive Rate</text>
<text x="282.70" y="385.31" font-family="Liberation Mono" font-size="6.4" font-weight="bold" text-anchor="end" fill="#111" textLength="7.6" lengthAdjust="spacingAndGlyphs" stroke="#111" stroke-width="0.35">0.0</text>
<text x="285.10" y="390.91" font-family="Liberation Mono" font-size="6.4" font-weight="bold" text-anchor="middle" fill="#111" textLength="7.6" lengthAdjust="spacingAndGlyphs" stroke="#111" stroke-width="0.35">0.0</text>
<text x="282.70" y="355.23" font-family="Liberation Mono" font-size="6.4" font-weight="bold" text-anchor="end" fill="#111" textLength="7.6" lengthAdjust="spacingAndGlyphs" stroke="#111" stroke-width="0.35">0.2</text>
<text x="333.12" y="390.91" font-family="Liberation Mono" font-size="6.4" font-weight="bold" text-anchor="middle" fill="#111" textLength="7.6" lengthAdjust="spacingAndGlyphs" stroke="#111" stroke-width="0.35">0.2</text>
<text x="282.70" y="325.15" font-family="Liberation Mono" font-size="6.4" font-weight="bold" text-anchor="end" fill="#111" textLength="7.6" lengthAdjust="spacingAndGlyphs" stroke="#111" stroke-width="0.35">0.4</text>
<text x="381.14" y="390.91" font-family="Liberation Mono" font-size="6.4" font-weight="bold" text-anchor="middle" fill="#111" textLength="7.6" lengthAdjust="spacingAndGlyphs" stroke="#111" stroke-width="0.35">0.4</text>
<text x="282.70" y="295.07" font-family="Liberation Mono" font-size="6.4" font-weight="bold" text-anchor="end" fill="#111" textLength="7.6" lengthAdjust="spacingAndGlyphs" stroke="#111" stroke-width="0.35">0.6</text>
<text x="429.16" y="390.91" font-family="Liberation Mono" font-size="6.4" font-weight="bold" text-anchor="middle" fill="#111" textLength="7.6" lengthAdjust="spacingAndGlyphs" stroke="#111" stroke-width="0.35">0.6</text>
<text x="282.70" y="264.99" font-family="Liberation Mono" font-size="6.4" font-weight="bold" text-anchor="end" fill="#111" textLength="7.6" lengthAdjust="spacingAndGlyphs" stroke="#111" stroke-width="0.35">0.8</text>
<text x="477.18" y="390.91" font-family="Liberation Mono" font-size="6.4" font-weight="bold" text-anchor="middle" fill="#111" textLength="7.6" lengthAdjust="spacingAndGlyphs" stroke="#111" stroke-width="0.35">0.8</text>
<text x="282.70" y="234.91" font-family="Liberation Mono" font-size="6.4" font-weight="bold" text-anchor="end" fill="#111" textLength="7.6" lengthAdjust="spacingAndGlyphs" stroke="#111" stroke-width="0.35">1.0</text>
<text x="525.20" y="390.91" font-family="Liberation Mono" font-size="6.4" font-weight="bold" text-anchor="middle" fill="#111" textLength="7.6" lengthAdjust="spacingAndGlyphs" stroke="#111" stroke-width="0.35">1.0</text>
<text x="387.24" y="341.67" font-family="Liberation Mono" font-size="6.6" font-weight="bold" text-anchor="start" fill="#1a1a1a" textLength="104.69" lengthAdjust="spacingAndGlyphs" >ROC curve of class Death (area = 0.99)</text>
<text x="387.24" y="350.62" font-family="Liberation Mono" font-size="6.6" font-weight="bold" text-anchor="start" fill="#1a1a1a" textLength="107.44" lengthAdjust="spacingAndGlyphs" >ROC curve of class Injury (area = 0.81)</text>
<text x="387.24" y="359.57" font-family="Liberation Mono" font-size="6.6" font-weight="bold" text-anchor="start" fill="#1a1a1a" textLength="132.24" lengthAdjust="spacingAndGlyphs" >ROC curve of class Property damage (area = 0.82)</text>
<text x="387.24" y="368.52" font-family="Liberation Mono" font-size="6.6" font-weight="bold" text-anchor="start" fill="#1a1a1a" textLength="101.94" lengthAdjust="spacingAndGlyphs" >micro-average ROC curve (area = 0.89)</text>
<text x="387.24" y="377.47" font-family="Liberation Mono" font-size="6.6" font-weight="bold" text-anchor="start" fill="#1a1a1a" textLength="101.94" lengthAdjust="spacingAndGlyphs" >macro-average ROC curve (area = 0.87)</text>
<text x="175.90" y="441.59" font-family="Liberation Sans" font-size="8.1" font-weight="normal" text-anchor="end" fill="#595959" textLength="10.6" lengthAdjust="spacingAndGlyphs" >0.8</text>
<text x="175.90" y="457.93" font-family="Liberation Sans" font-size="8.1" font-weight="normal" text-anchor="end" fill="#595959" textLength="10.6" lengthAdjust="spacingAndGlyphs" >0.7</text>
<text x="175.90" y="474.27" font-family="Liberation Sans" font-size="8.1" font-weight="normal" text-anchor="end" fill="#595959" textLength="10.6" lengthAdjust="spacingAndGlyphs" >0.6</text>
<text x="175.90" y="490.61" font-family="Liberation Sans" font-size="8.1" font-weight="normal" text-anchor="end" fill="#595959" textLength="10.6" lengthAdjust="spacingAndGlyphs" >0.5</text>
<text x="175.90" y="506.95" font-family="Liberation Sans" font-size="8.1" font-weight="normal" text-anchor="end" fill="#595959" textLength="10.6" lengthAdjust="spacingAndGlyphs" >0.4</text>
<text x="175.90" y="523.29" font-family="Liberation Sans" font-size="8.1" font-weight="normal" text-anchor="end" fill="#595959" textLength="10.6" lengthAdjust="spacingAndGlyphs" >0.3</text>
<text x="191.80" y="532.39" font-family="Liberation Sans" font-size="8.1" font-weight="normal" text-anchor="middle" fill="#595959" textLength="4.4" lengthAdjust="spacingAndGlyphs" >1</text>
<text x="211.55" y="532.39" font-family="Liberation Sans" font-size="8.1" font-weight="normal" text-anchor="middle" fill="#595959" textLength="4.4" lengthAdjust="spacingAndGlyphs" >2</text>
<text x="231.30" y="532.39" font-family="Liberation Sans" font-size="8.1" font-weight="normal" text-anchor="middle" fill="#595959" textLength="4.4" lengthAdjust="spacingAndGlyphs" >3</text>
<text x="251.05" y="532.39" font-family="Liberation Sans" font-size="8.1" font-weight="normal" text-anchor="middle" fill="#595959" textLength="4.4" lengthAdjust="spacingAndGlyphs" >4</text>
<text x="270.80" y="532.39" font-family="Liberation Sans" font-size="8.1" font-weight="normal" text-anchor="middle" fill="#595959" textLength="4.4" lengthAdjust="spacingAndGlyphs" >5</text>
<text x="290.55" y="532.39" font-family="Liberation Sans" font-size="8.1" font-weight="normal" text-anchor="middle" fill="#595959" textLength="4.4" lengthAdjust="spacingAndGlyphs" >6</text>
<text x="310.30" y="532.39" font-family="Liberation Sans" font-size="8.1" font-weight="normal" text-anchor="middle" fill="#595959" textLength="4.4" lengthAdjust="spacingAndGlyphs" >7</text>
<text x="330.05" y="532.39" font-family="Liberation Sans" font-size="8.1" font-weight="normal" text-anchor="middle" fill="#595959" textLength="4.4" lengthAdjust="spacingAndGlyphs" >8</text>
<text x="349.80" y="532.39" font-family="Liberation Sans" font-size="8.1" font-weight="normal" text-anchor="middle" fill="#595959" textLength="4.4" lengthAdjust="spacingAndGlyphs" >9</text>
<text x="369.55" y="532.39" font-family="Liberation Sans" font-size="8.1" font-weight="normal" text-anchor="middle" fill="#595959" textLength="8.8" lengthAdjust="spacingAndGlyphs" >10</text>
<text x="281.60" y="544.81" font-family="Liberation Sans" font-size="7.6" font-weight="normal" text-anchor="middle" fill="#595959" textLength="28.5" lengthAdjust="spacingAndGlyphs" >K-FOLD</text>
<text x="0" y="2.58" font-family="Liberation Sans" font-size="7.5" font-weight="normal" text-anchor="middle" fill="#595959" textLength="42.6" lengthAdjust="spacingAndGlyphs" transform="translate(157.70,479.60) rotate(-90)" >ACCURACY</text>
<text x="156.90" y="544.93" font-family="Liberation Sans" font-size="12.6" font-weight="normal" text-anchor="start" fill="#111" textLength="14.0" lengthAdjust="spacingAndGlyphs" >(c)</text>
<text x="223.60" y="427.82" font-family="Liberation Sans" font-size="7.9" font-weight="normal" text-anchor="start" fill="#595959" textLength="31.2" lengthAdjust="spacingAndGlyphs" >XGBoost</text>
<text x="287.90" y="427.82" font-family="Liberation Sans" font-size="7.9" font-weight="normal" text-anchor="start" fill="#595959" textLength="10.2" lengthAdjust="spacingAndGlyphs" >RF</text>
<text x="331.30" y="427.82" font-family="Liberation Sans" font-size="7.9" font-weight="normal" text-anchor="start" fill="#595959" textLength="9.8" lengthAdjust="spacingAndGlyphs" >LR</text></g>
</svg>
</body></html>
